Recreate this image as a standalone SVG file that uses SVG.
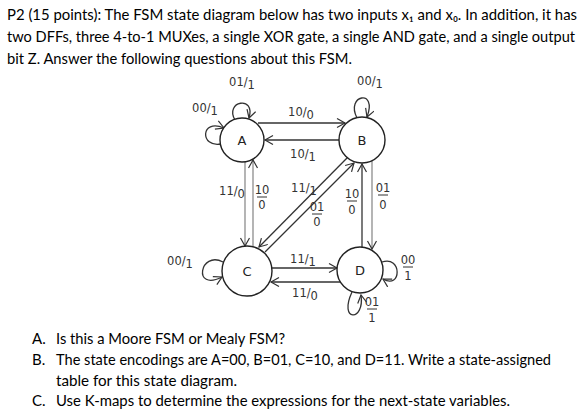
<svg xmlns="http://www.w3.org/2000/svg" width="588" height="412" viewBox="0 0 588 412">
<style>
.t{font-family:Lato,"Liberation Sans",sans-serif;font-size:15px;fill:#000}
.lb{font-family:"DejaVu Sans",sans-serif;font-size:11.5px;fill:#333;text-anchor:middle}
.st{font-family:"DejaVu Sans",sans-serif;font-size:13px;fill:#222;text-anchor:middle}
.node{fill:#fff;stroke:#222;stroke-width:1.4}
.c{fill:none;stroke:#333;stroke-width:1.3}
.cl{fill:none;stroke:#777;stroke-width:1.1}
.bar{stroke:#333;stroke-width:1}
</style>
<defs>
<marker id="ah" markerUnits="userSpaceOnUse" markerWidth="12" markerHeight="12" refX="9" refY="5" orient="auto">
<path d="M1,0.5 L9,5 L1,9.5" fill="none" stroke="#333" stroke-width="1.2"/>
</marker>
</defs>
<text class="t" x="7" y="20" textLength="570" lengthAdjust="spacingAndGlyphs">P2 (15 points): The FSM state diagram below has two inputs x₁ and x₀. In addition, it has</text>
<text class="t" x="7" y="42" textLength="568" lengthAdjust="spacingAndGlyphs" style="font-size:14.5px">two DFFs, three 4-to-1 MUXes, a single XOR gate, a single AND gate, and a single output</text>
<text class="t" x="7" y="64" textLength="345" lengthAdjust="spacingAndGlyphs">bit Z. Answer the following questions about this FSM.</text>

<g id="connectors">
<line class="c" x1="258" y1="123" x2="345" y2="123" marker-end="url(#ah)"/>
<line class="c" x1="339" y1="140" x2="265" y2="140" marker-end="url(#ah)"/>
<line class="cl" x1="245" y1="162" x2="245" y2="246" marker-end="url(#ah)"/>
<line class="cl" x1="253" y1="247" x2="253" y2="160" marker-end="url(#ah)"/>
<line class="c" x1="348" y1="157" x2="259" y2="247" marker-end="url(#ah)"/>
<line class="c" x1="265" y1="252" x2="354" y2="163" marker-end="url(#ah)"/>
<line class="c" x1="362" y1="247" x2="362" y2="164" marker-end="url(#ah)" stroke-width="1.6"/>
<line class="cl" x1="372" y1="161" x2="372" y2="249" marker-end="url(#ah)"/>
<line class="c" x1="272" y1="268" x2="337" y2="268" marker-end="url(#ah)"/>
<line class="c" x1="340" y1="282" x2="271" y2="282" marker-end="url(#ah)"/>
<path class="c" d="M235,120 C224,101 256,95 249,118" marker-end="url(#ah)"/>
<path class="c" d="M221,144 C200,148 200,118 224,128" marker-end="url(#ah)"/>
<path class="c" d="M357,118 C345,95 378,88 367,117" marker-end="url(#ah)"/>
<path class="c" d="M223,262 C200,250 192,292 222,277" marker-end="url(#ah)"/>
<path class="c" d="M382,262 C402,255 402,290 383,279" marker-end="url(#ah)"/>
<path class="c" d="M352,292 C338,322 365,322 361,295" marker-end="url(#ah)"/>
</g>

<g id="labels">
<text class="lb" x="301" y="116">10/<tspan dy="3">0</tspan></text>
<text class="lb" x="303" y="158">10/<tspan dy="3">1</tspan></text>
<text class="lb" x="242" y="86">01/<tspan dy="3">1</tspan></text>
<text class="lb" x="205" y="112">00/<tspan dy="3">1</tspan></text>
<text class="lb" x="370" y="85">00/<tspan dy="3">1</tspan></text>
<text class="lb" x="232" y="195">11/<tspan dy="3">0</tspan></text>
<text class="lb" x="304" y="192">11/<tspan dy="3">1</tspan></text>
<text class="lb" x="303" y="263">11/<tspan dy="3">1</tspan></text>
<text class="lb" x="305" y="297">11/<tspan dy="3">0</tspan></text>
<text class="lb" x="180" y="265">00/<tspan dy="3">1</tspan></text>
<text class="lb" x="262" y="194">10</text><line class="bar" x1="257" y1="197" x2="267" y2="197"/><text class="lb" x="262" y="209">0</text>
<text class="lb" x="317" y="211">01</text><line class="bar" x1="312" y1="214" x2="322" y2="214"/><text class="lb" x="317" y="226">0</text>
<text class="lb" x="352" y="198">10</text><line class="bar" x1="347" y1="201" x2="357" y2="201"/><text class="lb" x="352" y="214">0</text>
<text class="lb" x="383" y="192">01</text><line class="bar" x1="378" y1="195" x2="388" y2="195"/><text class="lb" x="383" y="209">0</text>
<text class="lb" x="408" y="264">00</text><line class="bar" x1="403" y1="267" x2="413" y2="267"/><text class="lb" x="408" y="280">1</text>
<text class="lb" x="372" y="306">01</text><line class="bar" x1="367" y1="309" x2="377" y2="309"/><text class="lb" x="372" y="322">1</text>
</g>

<g id="A"><circle class="node" cx="242" cy="140" r="22"/><text class="st" x="242" y="145">A</text></g>
<g id="B"><circle class="node" cx="362" cy="140" r="23"/><text class="st" x="362" y="145">B</text></g>
<g id="C"><circle class="node" cx="247" cy="271" r="25"/><text class="st" x="247" y="276">C</text></g>
<g id="D"><circle class="node" cx="360" cy="270" r="23"/><text class="st" x="360" y="275">D</text></g>

<text class="t" x="32" y="344">A.</text><text class="t" x="56" y="344" textLength="229" lengthAdjust="spacingAndGlyphs">Is this a Moore FSM or Mealy FSM?</text>
<text class="t" x="32" y="365">B.</text><text class="t" x="56" y="365" textLength="495" lengthAdjust="spacingAndGlyphs">The state encodings are A=00, B=01, C=10, and D=11. Write a state-assigned</text>
<text class="t" x="56" y="386" textLength="181" lengthAdjust="spacingAndGlyphs">table for this state diagram.</text>
<text class="t" x="32" y="406">C.</text><text class="t" x="56" y="406" textLength="454" lengthAdjust="spacingAndGlyphs">Use K-maps to determine the expressions for the next-state variables.</text>
</svg>
